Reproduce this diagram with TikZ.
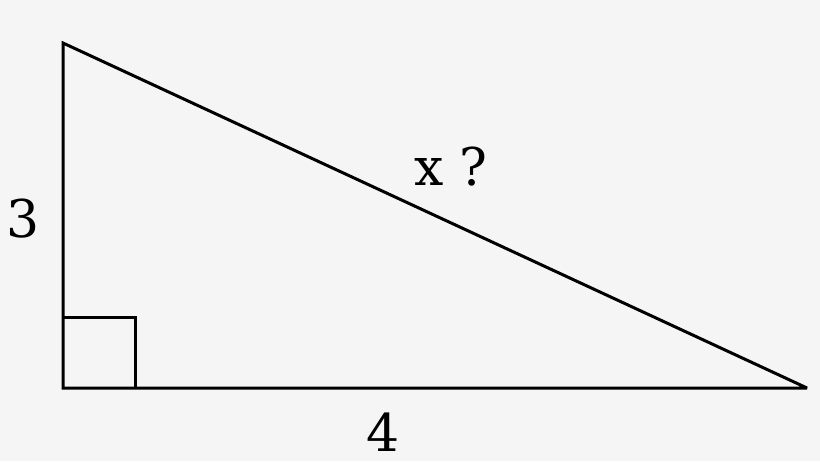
\documentclass[tikz,border=0pt]{standalone}
\usepackage{fontspec}
\setmainfont{DejaVu Serif}
\definecolor{bg}{HTML}{F5F5F5}
\begin{document}
\begin{tikzpicture}[x=0.75pt,y=-0.75pt,
  edge/.style={line width=2.25pt, line join=miter, miter limit=4},
  lbl/.style={font=\fontsize{39}{46}\selectfont, inner sep=0pt, anchor=base}]
\fill[bg] (0,0) rectangle (820,461);
\useasboundingbox (0,0) rectangle (820,461);
\coordinate (A) at (63,43);
\coordinate (B) at (63,388);
\coordinate (C) at (807,388);
\draw[edge] (A) -- (B) -- (C) -- cycle;
\coordinate (S1) at (63,317);
\coordinate (S2) at (135,317);
\coordinate (S3) at (135,388);
\draw[edge] (S1) -- (S2) -- (S3);
\node[lbl] (three) at (23,237) {3};
\node[lbl] (four) at (383,451) {4};
\node[lbl] (hyp) at (451,185) {x ?};
\end{tikzpicture}
\end{document}
